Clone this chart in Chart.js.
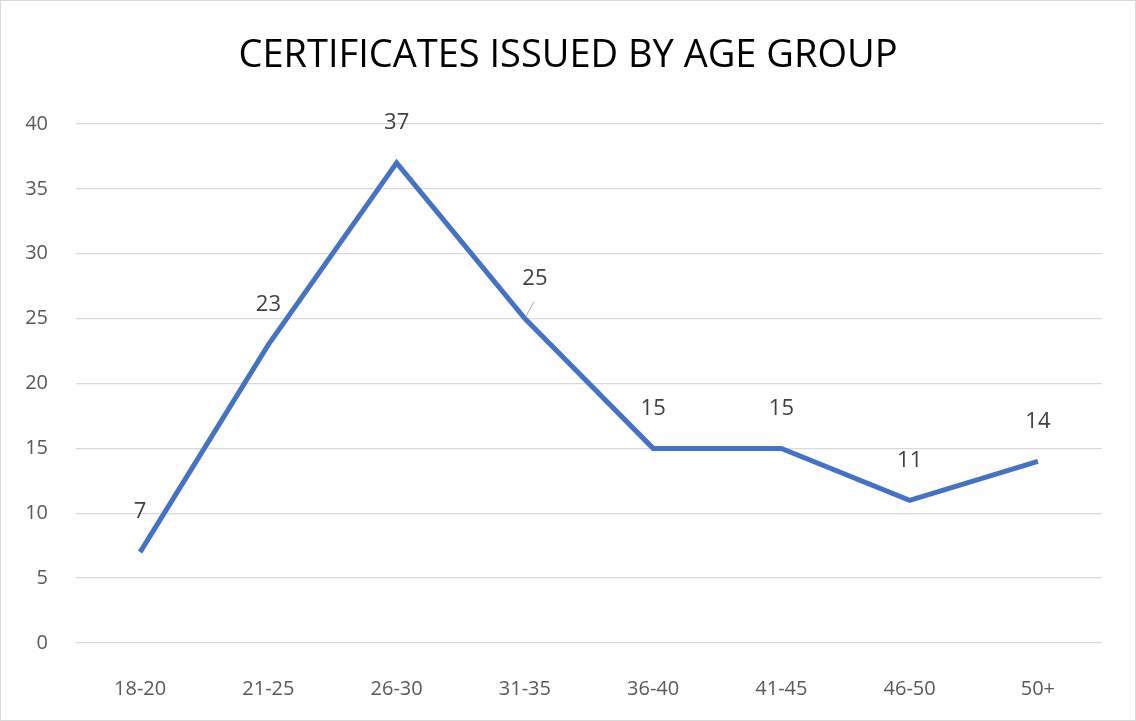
<!DOCTYPE html>
<html><head><meta charset="utf-8">
<script src="https://cdn.jsdelivr.net/npm/chart.js@4"></script>
<style>html,body{margin:0;padding:0;background:#fff}#w{width:1136px;height:721px;position:relative;box-sizing:border-box;border:1px solid #d9d9d9}</style>
</head><body><div id="w"><canvas id="c"></canvas></div>
<script>
const categories = ["18-20","21-25","26-30","31-35","36-40","41-45","46-50","50+"];
const certificates = [7,23,37,25,15,15,11,14];
const yTicks = [0,5,10,15,20,25,30,35,40];
const titleText = "CERTIFICATES ISSUED BY AGE GROUP";

const labelsPlugin = {
  id:'labels',
  afterDatasetsDraw(chart){
    const ctx = chart.ctx;
    ctx.save();
    ctx.font = '22px "Open Sans", sans-serif';
    ctx.fillStyle = '#404040';
    ctx.textAlign = 'center';
    ctx.textBaseline = 'middle';
    chart.getDatasetMeta(0).data.forEach((p,i)=>{
      let dx = 0;
      if (i===3) { dx = 10;
        ctx.strokeStyle='#a6a6a6'; ctx.lineWidth=1;
        ctx.beginPath(); ctx.moveTo(p.x+1,p.y-2); ctx.lineTo(p.x+9,p.y-17); ctx.stroke(); }
      ctx.fillText(String(certificates[i]), p.x+dx, p.y-40);
    });
    ctx.font = '38px "Open Sans", sans-serif';
    ctx.fillStyle = '#000';
    ctx.fillText(titleText, chart.width/2, 55);
    ctx.restore();
  }
};

new Chart(document.getElementById('c'), {
  type:'line',
  data:{labels:categories, datasets:[{data:certificates, borderColor:'#4472C4', borderWidth:5, pointRadius:0, tension:0, borderJoinStyle:'miter'}]},
  options:{
    responsive:true, maintainAspectRatio:false, animation:false,
    layout:{padding:{top:123,right:33,left:0,bottom:0}},
    plugins:{legend:{display:false},tooltip:{enabled:false}},
    scales:{
      x:{offset:true, grid:{display:false}, border:{display:false},
         ticks:{color:'#595959', font:{size:20,family:'"Open Sans", sans-serif'}, padding:26},
         afterFit(s){s.height=77;}},
      y:{min:0,max:40, border:{display:false},
         grid:{color:'#d9d9d9', lineWidth:1.3, drawTicks:false},
         afterBuildTicks(s){s.ticks=yTicks.map(v=>({value:v}));},
         ticks:{color:'#595959', font:{size:20,family:'"Open Sans", sans-serif'}, padding:28},
         afterFit(s){s.width=75;}}
    }
  },
  plugins:[labelsPlugin]
});
</script></body></html>
